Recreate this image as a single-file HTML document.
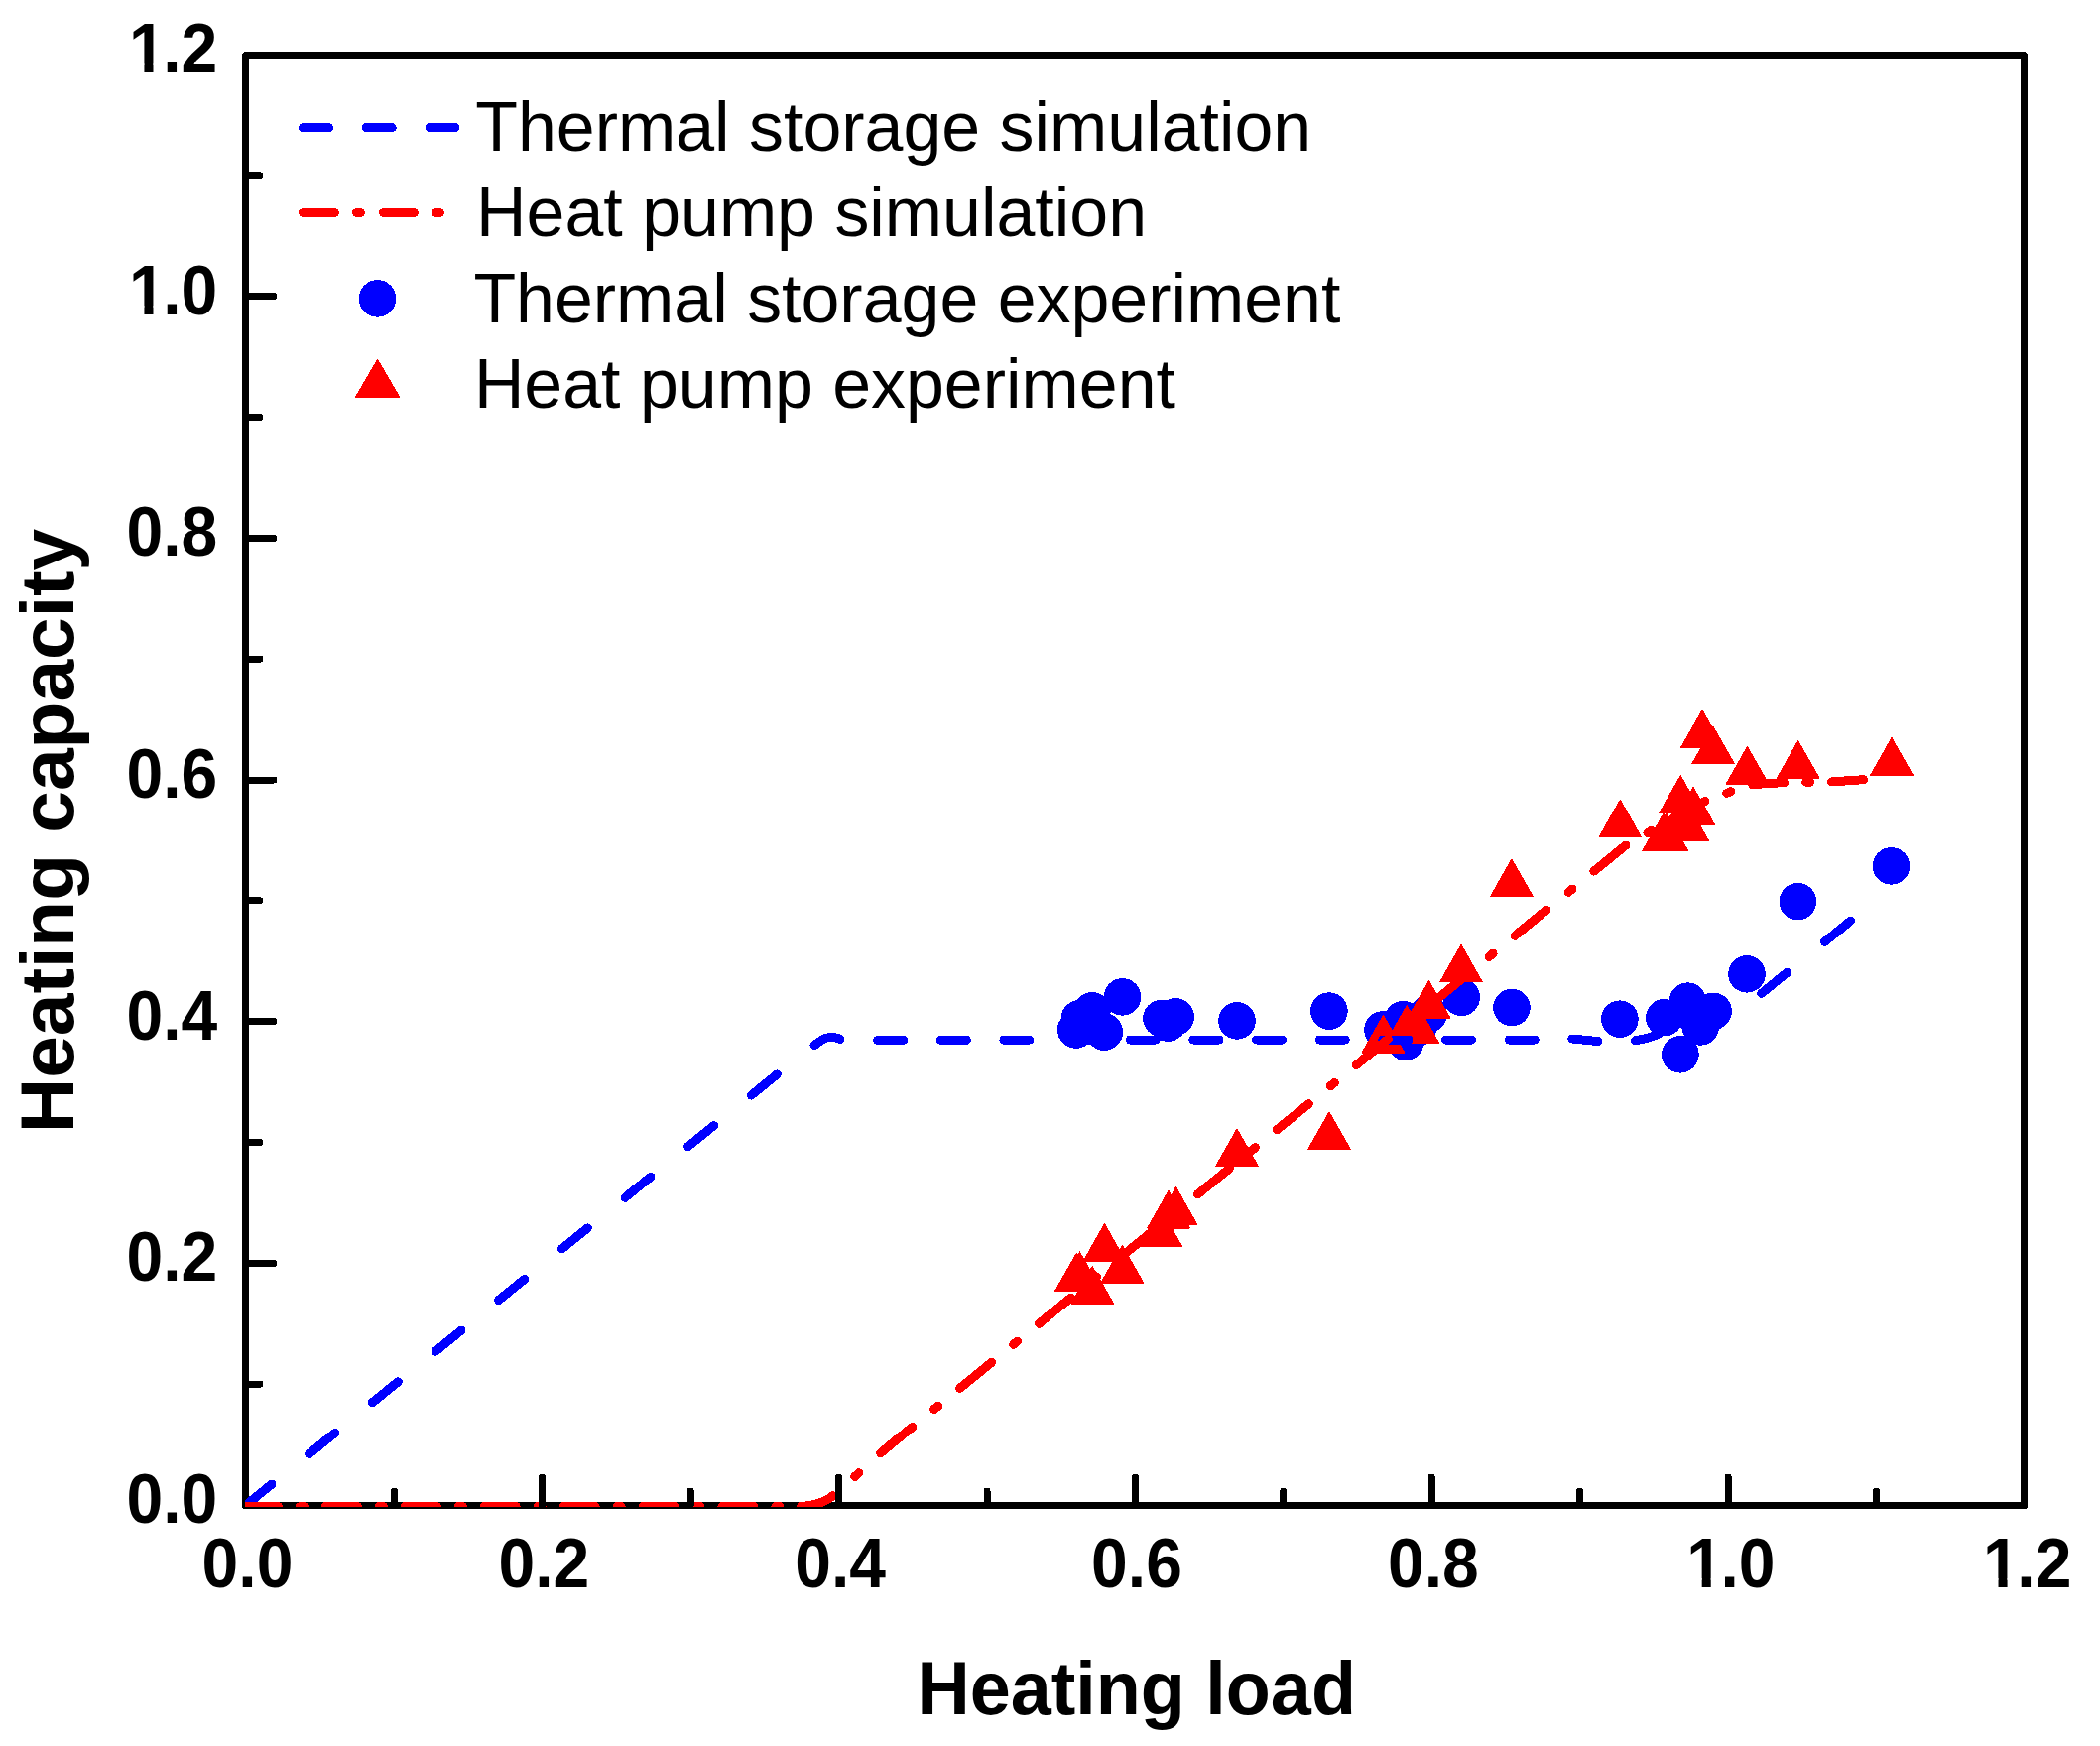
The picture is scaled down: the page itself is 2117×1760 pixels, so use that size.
<!DOCTYPE html>
<html lang="en"><head><meta charset="utf-8"><title>Heating capacity vs heating load</title>
<style>html,body{margin:0;padding:0;background:#fff}svg{display:block}</style></head>
<body>
<svg width="2117" height="1760" viewBox="0 0 2117 1760" shape-rendering="crispEdges">
<rect width="2117" height="1760" fill="#fff"/>
<defs><clipPath id="plot"><rect x="247" y="56" width="1794" height="1463"/></clipPath></defs>
<rect x="247.5" y="55.5" width="1793.0" height="1462.0" fill="none" stroke="#000" stroke-width="7" stroke-linejoin="round"/>
<g clip-path="url(#plot)">
<g fill="#0000ff">
<circle cx="1084.7" cy="1038.0" r="18.8"/>
<circle cx="1088.3" cy="1026.9" r="18.8"/>
<circle cx="1100.9" cy="1018.8" r="18.8"/>
<circle cx="1113.3" cy="1040.1" r="18.8"/>
<circle cx="1131.5" cy="1004.9" r="18.8"/>
<circle cx="1171.0" cy="1026.5" r="18.8"/>
<circle cx="1177.5" cy="1031.1" r="18.8"/>
<circle cx="1185.1" cy="1024.9" r="18.8"/>
<circle cx="1247.0" cy="1028.9" r="18.8"/>
<circle cx="1339.9" cy="1019.1" r="18.8"/>
<circle cx="1394.0" cy="1038.0" r="18.8"/>
<circle cx="1414.3" cy="1027.7" r="18.8"/>
<circle cx="1416.8" cy="1050.2" r="18.8"/>
<circle cx="1429.6" cy="1036.0" r="18.8"/>
<circle cx="1440.0" cy="1022.0" r="18.8"/>
<circle cx="1473.2" cy="1005.3" r="18.8"/>
<circle cx="1524.0" cy="1015.6" r="18.8"/>
<circle cx="1632.9" cy="1027.2" r="18.8"/>
<circle cx="1677.9" cy="1025.7" r="18.8"/>
<circle cx="1701.4" cy="1009.2" r="18.8"/>
<circle cx="1707.0" cy="1022.0" r="18.8"/>
<circle cx="1727.1" cy="1019.3" r="18.8"/>
<circle cx="1714.3" cy="1034.9" r="18.8"/>
<circle cx="1693.9" cy="1062.8" r="18.8"/>
<circle cx="1761.0" cy="981.8" r="18.8"/>
<circle cx="1812.4" cy="908.7" r="18.8"/>
<circle cx="1906.5" cy="872.9" r="18.8"/>
</g>
<g fill="#ff0000" stroke="#ff0000" stroke-width="1" stroke-linejoin="round">
<path d="M1085.1 1263.5 L1106.5 1301.1 L1063.7 1301.1 Z"/>
<path d="M1088.5 1262.0 L1109.9 1299.6 L1067.1 1299.6 Z"/>
<path d="M1101.2 1276.5 L1122.6 1314.1 L1079.8 1314.1 Z"/>
<path d="M1113.5 1233.7 L1134.9 1271.3 L1092.1 1271.3 Z"/>
<path d="M1131.3 1255.4 L1152.7 1293.0 L1109.9 1293.0 Z"/>
<path d="M1170.2 1218.8 L1191.6 1256.4 L1148.8 1256.4 Z"/>
<path d="M1178.0 1200.4 L1199.4 1238.0 L1156.6 1238.0 Z"/>
<path d="M1185.5 1196.7 L1206.9 1234.3 L1164.1 1234.3 Z"/>
<path d="M1247.0 1137.9 L1268.4 1175.5 L1225.6 1175.5 Z"/>
<path d="M1340.0 1120.9 L1361.4 1158.5 L1318.6 1158.5 Z"/>
<path d="M1394.5 1023.4 L1415.9 1061.0 L1373.1 1061.0 Z"/>
<path d="M1418.2 1013.6 L1439.6 1051.2 L1396.8 1051.2 Z"/>
<path d="M1429.6 1014.3 L1451.0 1051.9 L1408.2 1051.9 Z"/>
<path d="M1440.5 988.6 L1461.9 1026.2 L1419.1 1026.2 Z"/>
<path d="M1473.0 952.3 L1494.4 989.9 L1451.6 989.9 Z"/>
<path d="M1523.9 866.0 L1545.3 903.6 L1502.5 903.6 Z"/>
<path d="M1633.3 806.3 L1654.7 843.9 L1611.9 843.9 Z"/>
<path d="M1677.3 819.6 L1698.7 857.2 L1655.9 857.2 Z"/>
<path d="M1680.3 819.8 L1701.7 857.4 L1658.9 857.4 Z"/>
<path d="M1694.2 781.7 L1715.6 819.3 L1672.8 819.3 Z"/>
<path d="M1701.0 809.6 L1722.4 847.2 L1679.6 847.2 Z"/>
<path d="M1707.0 793.5 L1728.4 831.1 L1685.6 831.1 Z"/>
<path d="M1716.0 715.7 L1737.4 753.3 L1694.6 753.3 Z"/>
<path d="M1727.1 732.3 L1748.5 769.9 L1705.7 769.9 Z"/>
<path d="M1761.5 752.5 L1782.9 790.1 L1740.1 790.1 Z"/>
<path d="M1812.7 746.6 L1834.1 784.2 L1791.3 784.2 Z"/>
<path d="M1907.0 743.6 L1928.4 781.2 L1885.6 781.2 Z"/>
</g>
<path d="M248.0 1517.1 L274.0 1496.0 M311.7 1465.5 L337.7 1444.4 M375.3 1413.8 L400.0 1393.8 L401.3 1392.8 M439.0 1362.2 L465.0 1341.1 M502.6 1310.6 L528.6 1289.5 M566.3 1259.0 L592.3 1237.9 M630.0 1207.3 L656.0 1186.2 M693.6 1155.7 L719.6 1134.6 M757.3 1104.1 L783.3 1083.0 M820.9 1053.6 L821.0 1053.6 L828.0 1048.6 L833.0 1046.2 L838.0 1045.2 L843.0 1046.0 L846.9 1047.4 M884.6 1048.5 L900.0 1048.4 L910.6 1048.4 M948.3 1048.3 L974.3 1048.3 M1011.9 1048.2 L1037.9 1048.1 M1075.6 1048.0 L1100.0 1048.0 L1101.6 1048.0 M1139.2 1048.0 L1165.2 1048.0 M1202.9 1048.0 L1228.9 1048.0 M1266.6 1048.0 L1292.6 1048.0 M1330.2 1048.0 L1356.2 1048.0 M1393.9 1048.0 L1419.9 1048.0 M1457.5 1048.0 L1483.5 1048.0 M1521.2 1048.0 L1547.2 1048.0 M1584.9 1047.0 L1585.0 1047.0 L1610.9 1049.6 M1648.5 1048.8 L1660.0 1046.5 L1669.3 1043.5 L1674.5 1040.3 L1674.5 1040.3 M1712.2 1031.8 L1730.0 1028.5 L1738.2 1026.6 M1775.8 1001.3 L1801.8 980.1 M1839.5 949.4 L1865.5 928.2" fill="none" stroke="#0000ff" stroke-width="9" stroke-linecap="round" stroke-linejoin="round"/>
<path d="M248.5 1518.5 L280.5 1518.5 M302.5 1518.5 L306.5 1518.5 M328.4 1518.5 L360.4 1518.5 M382.4 1518.5 L386.4 1518.5 M408.3 1518.5 L440.3 1518.5 M462.3 1518.5 L466.3 1518.5 M488.2 1518.5 L520.2 1518.5 M542.2 1518.5 L546.2 1518.5 M568.1 1518.5 L600.1 1518.5 M622.1 1518.5 L626.1 1518.5 M648.0 1518.5 L680.0 1518.5 M702.0 1518.5 L706.0 1518.5 M727.9 1518.5 L759.9 1518.5 M781.9 1518.5 L785.9 1518.5 M807.8 1518.2 L812.0 1518.0 L822.0 1516.4 L830.0 1513.6 L836.0 1510.4 L839.8 1507.6 M861.8 1488.4 L864.6 1485.9 L865.8 1484.7 M887.7 1464.8 L888.3 1464.3 L900.0 1454.5 L919.7 1438.4 M941.7 1420.5 L945.7 1417.2 M967.6 1399.4 L999.6 1373.3 M1021.6 1355.3 L1025.6 1352.1 M1047.5 1334.2 L1079.5 1308.1 M1101.5 1290.2 L1105.5 1286.9 M1127.5 1269.1 L1159.5 1243.0 M1181.5 1225.0 L1185.5 1221.8 M1207.4 1203.9 L1239.4 1177.8 M1261.4 1159.9 L1265.4 1156.6 M1287.3 1138.7 L1319.3 1112.7 M1341.3 1094.7 L1345.3 1091.5 M1367.2 1073.6 L1399.2 1047.5 M1421.2 1029.6 L1425.2 1026.3 M1447.1 1008.4 L1479.1 982.3 M1501.1 964.4 L1505.1 961.1 M1527.0 943.3 L1559.0 917.2 M1581.0 899.3 L1585.0 896.0 M1606.9 878.1 L1638.9 852.0 M1660.9 839.5 L1662.0 838.9 L1664.9 837.3 M1686.8 824.8 L1690.0 823.0 L1718.8 807.6 M1740.8 799.3 L1741.8 798.9 L1744.8 797.8 M1766.7 790.9 L1782.0 789.3 L1798.7 788.8 M1820.7 788.2 L1822.0 788.2 L1824.7 788.2 M1846.6 787.9 L1878.6 785.7" fill="none" stroke="#ff0000" stroke-width="9" stroke-linecap="round" stroke-linejoin="round"/>
</g>
<path d="M397.3 1517.5 V1503.0 M247.5 1395.2 H262.0 M546.7 1517.5 V1489.0 M247.5 1273.3 H276.0 M696.1 1517.5 V1503.0 M247.5 1151.5 H262.0 M845.6 1517.5 V1489.0 M247.5 1029.7 H276.0 M995.0 1517.5 V1503.0 M247.5 907.8 H262.0 M1144.4 1517.5 V1489.0 M247.5 786.0 H276.0 M1293.8 1517.5 V1503.0 M247.5 664.2 H262.0 M1443.2 1517.5 V1489.0 M247.5 542.3 H276.0 M1592.7 1517.5 V1503.0 M247.5 420.5 H262.0 M1742.1 1517.5 V1489.0 M247.5 298.7 H276.0 M1891.5 1517.5 V1503.0 M247.5 176.8 H262.0" fill="none" stroke="#000" stroke-width="7" stroke-linecap="round"/>
<g font-family="'Liberation Sans', Arial, sans-serif" font-weight="bold" font-size="69.5" fill="#000">
<text transform="translate(203.61 1599.5) scale(0.95 1)">0.0</text>
<text transform="translate(127.52 1534.9) scale(0.95 1)">0.0</text>
<text transform="translate(502.44 1599.5) scale(0.95 1)">0.2</text>
<text transform="translate(127.52 1291.2) scale(0.95 1)">0.2</text>
<text transform="translate(801.27 1599.5) scale(0.95 1)">0.4</text>
<text transform="translate(127.52 1047.6) scale(0.95 1)">0.4</text>
<text transform="translate(1100.11 1599.5) scale(0.95 1)">0.6</text>
<text transform="translate(127.52 803.9) scale(0.95 1)">0.6</text>
<text transform="translate(1398.94 1599.5) scale(0.95 1)">0.8</text>
<text transform="translate(127.52 560.2) scale(0.95 1)">0.8</text>
<text transform="translate(1697.77 1599.5) scale(0.95 1)"><tspan x="2.63">1</tspan><tspan x="38.65">.0</tspan></text>
<text transform="translate(127.52 316.6) scale(0.95 1)"><tspan x="2.63">1</tspan><tspan x="38.65">.0</tspan></text>
<text transform="translate(1996.61 1599.5) scale(0.95 1)"><tspan x="2.63">1</tspan><tspan x="38.65">.2</tspan></text>
<text transform="translate(127.52 72.9) scale(0.95 1)"><tspan x="2.63">1</tspan><tspan x="38.65">.2</tspan></text>
</g>
<g fill="#fff" shape-rendering="geometricPrecision"><rect x="1703.43" y="1591.01" width="12.25" height="9.49"/><rect x="1724.74" y="1591.01" width="11.41" height="9.49"/><rect x="133.18" y="308.07" width="12.25" height="9.49"/><rect x="154.49" y="308.07" width="11.41" height="9.49"/><rect x="2002.27" y="1591.01" width="12.25" height="9.49"/><rect x="2023.58" y="1591.01" width="11.41" height="9.49"/><rect x="133.18" y="64.41" width="12.25" height="9.49"/><rect x="154.49" y="64.41" width="11.41" height="9.49"/></g>
<text x="1145.7" y="1727.5" font-family="'Liberation Sans', Arial, sans-serif" font-weight="bold" font-size="76.5" text-anchor="middle" textLength="442.5" lengthAdjust="spacingAndGlyphs">Heating load</text>
<text transform="translate(74 837.5) rotate(-90)" font-family="'Liberation Sans', Arial, sans-serif" font-weight="bold" font-size="76.5" text-anchor="middle" textLength="609.5" lengthAdjust="spacingAndGlyphs">Heating capacity</text>
<path d="M305.5 128.6 H331.5 M369.2 128.6 H395.2 M433 128.6 H459" stroke="#0000ff" stroke-width="9" stroke-linecap="round" fill="none"/>
<path d="M305.5 214.5 H337.5 M359.5 214.5 H363.5 M386.5 214.5 H417.5 M439.5 214.5 H443.5" stroke="#ff0000" stroke-width="9" stroke-linecap="round" fill="none"/>
<circle cx="380.5" cy="300.9" r="18.8" fill="#0000ff"/>
<g fill="#ff0000" stroke="#ff0000" stroke-width="1.2" stroke-linejoin="round"><path d="M380.6 362.5 L402.7 400.3 L358.5 400.3 Z"/></g>
<g font-family="'Liberation Sans', Arial, sans-serif" font-size="69.9" fill="#000">
<text x="479.3" y="152.0">Thermal storage simulation</text>
<text x="480.1" y="237.9">Heat pump simulation</text>
<text x="477.4" y="324.9">Thermal storage experiment</text>
<text x="477.9" y="411.0">Heat pump experiment</text>
</g>
</svg>
</body></html>
